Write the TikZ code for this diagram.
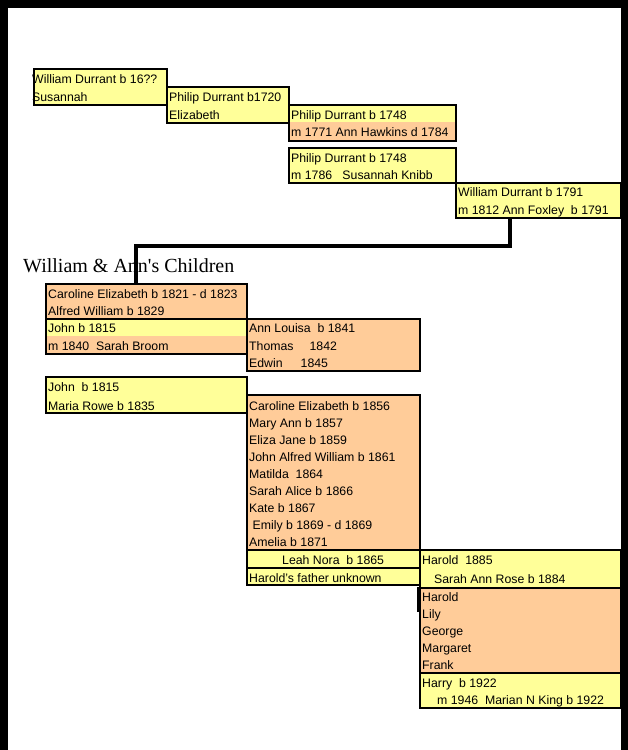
\documentclass[tikz,border=0pt]{standalone}
\usepackage{fontspec}
\setmainfont{Liberation Sans}
\newfontfamily\seriff{Liberation Serif}
\definecolor{yel}{HTML}{FFFF99}
\definecolor{sal}{HTML}{FFCC99}
\begin{document}
\begin{tikzpicture}[x=1pt,y=-1pt,
  box/.style={draw=black,line width=2.2pt},
  t/.style={anchor=base west,inner sep=0pt,yshift=-5.5pt,font=\fontsize{12.3}{13}\selectfont}]
\useasboundingbox (0,0) rectangle (628,750);
\fill[white] (0,0) rectangle (628,750);
\fill[black] (0,0) rectangle (628,8);
\fill[black] (0,0) rectangle (8,750);
\fill[black] (621,0) rectangle (628,750);
% fills
\fill[yel] (33,68) rectangle (166,104);
\fill[yel] (166,86) rectangle (288,122);
\fill[yel] (288,104) rectangle (455,122);
\fill[sal] (288,122) rectangle (455,140);
\fill[yel] (288,147) rectangle (455,182);
\fill[yel] (455,182) rectangle (620,217);
\fill[sal] (45,283) rectangle (246,318);
\fill[yel] (45,318) rectangle (246,336);
\fill[sal] (45,336) rectangle (246,353);
\fill[sal] (246,318) rectangle (419,370);
\fill[yel] (45,376) rectangle (246,412);
\fill[sal] (246,394) rectangle (419,549);
\fill[yel] (246,549) rectangle (419,584);
\fill[yel] (419,549) rectangle (620,587);
\fill[sal] (419,587) rectangle (620,672);
\fill[yel] (419,672) rectangle (620,707);
% borders
\node[box,minimum width=133,minimum height=36,inner sep=0,anchor=north west] (b1) at (33,68) {};
\node[box,minimum width=122,minimum height=36,inner sep=0,anchor=north west] (b2) at (166,86) {};
\node[box,minimum width=167,minimum height=36,inner sep=0,anchor=north west] (b3) at (288,104) {};
\node[box,minimum width=167,minimum height=35,inner sep=0,anchor=north west] (b4) at (288,147) {};
\node[box,minimum width=165,minimum height=35,inner sep=0,anchor=north west] (b5) at (455,182) {};
\node[box,minimum width=201,minimum height=35,inner sep=0,anchor=north west] (b6) at (45,283) {};
\node[box,minimum width=201,minimum height=35,inner sep=0,anchor=north west] (b7) at (45,318) {};
\node[box,minimum width=173,minimum height=52,inner sep=0,anchor=north west] (b8) at (246,318) {};
\node[box,minimum width=201,minimum height=36,inner sep=0,anchor=north west] (b9) at (45,376) {};
\node[box,minimum width=173,minimum height=155,inner sep=0,anchor=north west] (b10) at (246,394) {};
\node[box,minimum width=173,minimum height=18,inner sep=0,anchor=north west] (b11a) at (246,549) {};
\node[box,minimum width=173,minimum height=17,inner sep=0,anchor=north west] (b11b) at (246,567) {};
\node[box,minimum width=201,minimum height=38,inner sep=0,anchor=north west] (b12) at (419,549) {};
\node[box,minimum width=201,minimum height=85,inner sep=0,anchor=north west] (b13) at (419,587) {};
\node[box,minimum width=201,minimum height=35,inner sep=0,anchor=north west] (b14) at (419,672) {};
% connectors
\coordinate (c1) at (510,246);
\coordinate (c2) at (136,246);
\draw[line width=4pt] (b5.south -| c1) -- (c1) -- (c2) -- (b6.north -| c2);
\draw[line width=4pt] (b13.north west) -- ++(0,25);
% texts
\node[t] (w1) at (32,78) {William Durrant b 16??};
\node[t] (w2) at (32,96) {Susannah};
\node[t] (p1) at (169,96) {Philip Durrant b1720};
\node[t] (p2) at (169,114) {Elizabeth};
\node[t] (q1) at (291,114) {Philip Durrant b 1748};
\node[t] (q2) at (291,131) {m 1771 Ann Hawkins d 1784};
\node[t] (r1) at (291,157) {Philip Durrant b 1748};
\node[t] (r2) at (291,174) {m 1786\ \ \ Susannah Knibb};
\node[t] (s1) at (458,191) {William Durrant b 1791};
\node[t] (s2) at (458,209) {m 1812 Ann Foxley\ \ b 1791};
\node[anchor=base west,inner sep=0pt,font=\seriff\fontsize{20}{22}\selectfont] (title) at (23,272) {William \& Ann's Children};
\node[t] at (48,293) {Caroline Elizabeth b 1821 - d 1823};
\node[t] at (48,310) {Alfred William b 1829};
\node[t] at (48,327) {John b 1815};
\node[t] at (48,345) {m 1840\ \ Sarah Broom};
\node[t] at (249,327) {Ann Louisa\ \ b 1841};
\node[t] at (249,345) {Thomas\hspace{16pt}1842};
\node[t] at (249,362) {Edwin\hspace{18pt}1845};
\node[t] at (48,386) {John\ \ b 1815};
\node[t] at (48,405) {Maria Rowe b 1835};
\node[t] at (249,405) {Caroline Elizabeth b 1856};
\node[t] at (249,422) {Mary Ann b 1857};
\node[t] at (249,439) {Eliza Jane b 1859};
\node[t] at (249,456) {John Alfred William b 1861};
\node[t] at (249,473) {Matilda\ \ 1864};
\node[t] at (249,490) {Sarah Alice b 1866};
\node[t] at (249,507) {Kate b 1867};
\node[t] at (249,524) {\ Emily b 1869 - d 1869};
\node[t] at (249,541) {Amelia b 1871};
\node[t] at (282,559) {Leah Nora\ \ b 1865};
\node[t] at (249,577) {Harold's father unknown};
\node[t] at (422,559) {Harold\ \ 1885};
\node[t] at (434,578) {Sarah Ann Rose b 1884};
\node[t] at (422,596) {Harold};
\node[t] at (422,613) {Lily};
\node[t] at (422,630) {George};
\node[t] at (422,647) {Margaret};
\node[t] at (422,664) {Frank};
\node[t] at (422,682) {Harry\ \ b 1922};
\node[t] at (437,699) {m 1946\ \ Marian N King b 1922};
\end{tikzpicture}
\end{document}
